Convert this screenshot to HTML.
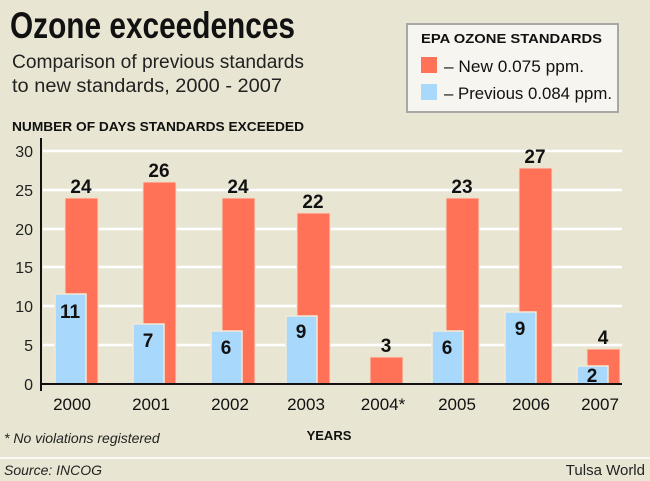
<!DOCTYPE html>
<html><head><style>
body{margin:0;background:#e8e6d2;}
svg{display:block;font-family:"Liberation Sans",sans-serif;}
</style></head><body>
<svg width="650" height="481" viewBox="0 0 650 481">
<rect width="650" height="481" fill="#e8e6d2"/>
<text x="10" y="38" font-size="37" font-weight="bold" fill="#111" textLength="285" lengthAdjust="spacingAndGlyphs">Ozone exceedences</text>
<text x="12" y="68" font-size="19" fill="#222" textLength="292" lengthAdjust="spacingAndGlyphs">Comparison of previous standards</text>
<text x="12" y="92" font-size="19" fill="#222" textLength="270" lengthAdjust="spacingAndGlyphs">to new standards, 2000 - 2007</text>
<text x="12" y="131" font-size="13" font-weight="bold" fill="#111" textLength="292" lengthAdjust="spacingAndGlyphs">NUMBER OF DAYS STANDARDS EXCEEDED</text>
<rect x="407" y="24" width="211" height="88" fill="#f6f5ef" stroke="#a8a8a8" stroke-width="2"/>
<text x="421" y="43" font-size="13" font-weight="bold" fill="#111" textLength="181" lengthAdjust="spacingAndGlyphs">EPA OZONE STANDARDS</text>
<rect x="421" y="57" width="16" height="16" fill="#ff7258"/>
<text x="444" y="72" font-size="17" fill="#111" textLength="140" lengthAdjust="spacingAndGlyphs">– New 0.075 ppm.</text>
<rect x="421" y="84" width="16" height="16" fill="#a8d8fb"/>
<text x="444" y="99" font-size="17" fill="#111" textLength="168" lengthAdjust="spacingAndGlyphs">– Previous 0.084 ppm.</text>
<g stroke="#fff" stroke-width="2.5">
<line x1="43" x2="622" y1="151" y2="151"/><line x1="43" x2="622" y1="190" y2="190"/>
<line x1="43" x2="622" y1="229" y2="229"/><line x1="43" x2="622" y1="267" y2="267"/>
<line x1="43" x2="622" y1="306" y2="306"/><line x1="43" x2="622" y1="345" y2="345"/>
</g>
<g font-size="16" fill="#222" text-anchor="end">
<text x="33" y="157">30</text><text x="33" y="196">25</text><text x="33" y="235">20</text>
<text x="33" y="273">15</text><text x="33" y="312">10</text><text x="33" y="351">5</text><text x="33" y="390">0</text>
</g>
<g fill="#ff7258" stroke="#f3d9c4" stroke-width="1">
<rect x="65" y="198" width="33" height="186"/>
<rect x="143" y="182" width="33" height="202"/>
<rect x="222" y="198" width="33" height="186"/>
<rect x="297" y="213" width="33" height="171"/>
<rect x="370" y="357" width="33" height="27"/>
<rect x="446" y="198" width="33" height="186"/>
<rect x="519" y="168" width="33" height="216"/>
<rect x="587" y="349" width="33" height="35"/>
</g>
<g fill="#a8d8fb" stroke="#f3e9d4" stroke-width="1.5">
<rect x="55" y="294" width="31" height="90"/>
<rect x="133" y="324" width="31" height="60"/>
<rect x="211" y="331" width="31" height="53"/>
<rect x="286" y="316" width="31" height="68"/>
<rect x="432" y="331" width="31" height="53"/>
<rect x="505" y="312" width="31" height="72"/>
<rect x="577" y="366" width="31" height="18"/>
</g>
<g font-size="19" font-weight="bold" fill="#111" text-anchor="middle">
<text x="81" y="193">24</text><text x="159" y="177">26</text><text x="238" y="193">24</text>
<text x="313" y="208">22</text><text x="386" y="352">3</text><text x="462" y="193">23</text>
<text x="535" y="163">27</text><text x="603" y="344">4</text>
<text x="70" y="318">11</text><text x="148" y="347">7</text><text x="226" y="354">6</text>
<text x="301" y="338">9</text><text x="447" y="354">6</text><text x="520" y="335">9</text><text x="592" y="382">2</text>
</g>
<line x1="41" y1="138" x2="41" y2="391" stroke="#111" stroke-width="2"/>
<line x1="40" y1="384" x2="622" y1="384" y2="384" stroke="#111" stroke-width="2"/>
<g font-size="17" fill="#111" text-anchor="middle">
<text x="72" y="410">2000</text><text x="151" y="410">2001</text><text x="230" y="410">2002</text>
<text x="306" y="410">2003</text><text x="383" y="410">2004*</text><text x="457" y="410">2005</text>
<text x="531" y="410">2006</text><text x="600" y="410">2007</text>
</g>
<text x="4" y="443" font-size="14" font-style="italic" fill="#222">* No violations registered</text>
<text x="329" y="440" font-size="13" font-weight="bold" fill="#111" text-anchor="middle">YEARS</text>
<line x1="0" y1="458" x2="650" y2="458" stroke="#fff" stroke-width="1.5"/>
<text x="4" y="475" font-size="14" font-style="italic" fill="#222">Source: INCOG</text>
<text x="645" y="475" font-size="15" fill="#222" text-anchor="end">Tulsa World</text>
</svg>
</body></html>
